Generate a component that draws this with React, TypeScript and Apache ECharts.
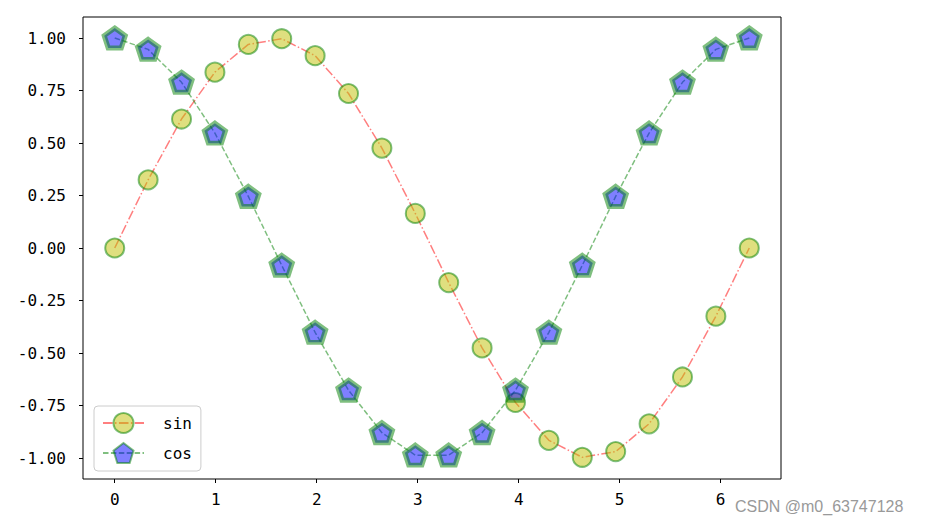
import React, { useEffect, useRef } from "react";
import * as echarts from "echarts";

const xValues = [0, 0.3307, 0.6614, 0.9921, 1.3228, 1.6535, 1.9842, 2.3149, 2.6456, 2.9762, 3.3069, 3.6376, 3.9683, 4.299, 4.6297, 4.9604, 5.2911, 5.6218, 5.9525, 6.2832];
const sinValues = [0, 0.3247, 0.6142, 0.8372, 0.9694, 0.9966, 0.9158, 0.7357, 0.4759, 0.1646, -0.1646, -0.4759, -0.7357, -0.9158, -0.9966, -0.9694, -0.8372, -0.6142, -0.3247, 0];
const cosValues = [1, 0.9458, 0.7891, 0.5469, 0.2455, -0.0826, -0.4017, -0.6773, -0.8795, -0.9864, -0.9864, -0.8795, -0.6773, -0.4017, -0.0826, 0.2455, 0.5469, 0.7891, 0.9458, 1];
const xTicks = [0, 1, 2, 3, 4, 5, 6];
const yTicks = [-1, -0.75, -0.5, -0.25, 0, 0.25, 0.5, 0.75, 1];
const seriesNames = ["sin", "cos"];
const watermark = "CSDN @m0_63747128";

const PENTAGON = "path://M0,-1 L0.951,-0.309 L0.588,0.809 L-0.588,0.809 L-0.951,-0.309 Z";
const MONO = "'DejaVu Sans Mono', monospace";

export default function App() {
  const ref = useRef<HTMLDivElement>(null);
  useEffect(() => {
    if (!ref.current) return;
    const chart = echarts.init(ref.current, null, { renderer: "svg" });
    const sinData = xValues.map((x, i) => [x, sinValues[i]]);
    const cosData = xValues.map((x, i) => [x, cosValues[i]]);
    chart.setOption({
      animation: false,
      backgroundColor: "#ffffff",
      grid: {
        left: 83,
        top: 17,
        width: 698,
        height: 462,
        show: true,
        borderColor: "#000000",
        borderWidth: 1,
        backgroundColor: "transparent",
      },
      legend: {
        show: true,
        orient: "vertical",
        left: 94,
        top: 406,
        data: seriesNames,
        itemWidth: 41,
        itemHeight: 25,
        itemGap: 8,
        padding: [6, 9, 7, 8],
        borderColor: "#cccccc",
        borderWidth: 1,
        borderRadius: 4,
        backgroundColor: "rgba(255,255,255,0.8)",
        textStyle: { fontFamily: MONO, fontSize: 16, color: "#000", padding: [0, 0, 0, 14] },
      },
      xAxis: {
        type: "value",
        min: -0.31416,
        max: 6.59734,
        splitLine: { show: false },
        axisLine: { show: false, onZero: false },
        axisTick: { show: true, customValues: xTicks, length: 4, lineStyle: { color: "#000", width: 1 } },
        axisLabel: {
          customValues: xTicks,
          margin: 12,
          color: "#000",
          fontFamily: MONO,
          fontSize: 16,
          formatter: (v: number) => String(v),
        },
      },
      yAxis: {
        type: "value",
        min: -1.1,
        max: 1.1,
        splitLine: { show: false },
        axisLine: { show: false, onZero: false },
        axisTick: { show: true, customValues: yTicks, length: 4, lineStyle: { color: "#000", width: 1 } },
        axisLabel: {
          customValues: yTicks,
          margin: 17,
          color: "#000",
          fontFamily: MONO,
          fontSize: 16,
          formatter: (v: number) => v.toFixed(2),
        },
      },
      series: [
        {
          name: seriesNames[0],
          type: "line",
          data: sinData,
          symbol: "circle",
          symbolSize: 19,
          lineStyle: { color: "rgba(255,0,0,0.5)", width: 1.5, type: [9.6, 2.4, 1.5, 2.4] },
          itemStyle: { color: "rgba(191,191,0,0.5)", borderColor: "rgba(0,128,0,0.5)", borderWidth: 2, opacity: 1 },
          emphasis: { disabled: true },
          z: 2,
        },
        {
          name: seriesNames[1],
          type: "line",
          data: cosData,
          symbol: PENTAGON,
          symbolSize: [21, 20],
          lineStyle: { color: "rgba(0,128,0,0.5)", width: 1.5, type: [5.5, 2.4] },
          itemStyle: { color: "rgba(0,0,255,0.5)", borderColor: "rgba(0,128,0,0.5)", borderWidth: 5, opacity: 1 },
          emphasis: { disabled: true },
          z: 3,
        },
      ],
      graphic: [
        {
          type: "text",
          left: 735,
          top: 498,
          style: { text: watermark, fill: "#999999", font: "16px 'Liberation Sans', Arial, sans-serif" },
        },
      ],
    });
    return () => chart.dispose();
  }, []);
  return <div ref={ref} style={{ position: "fixed", left: 0, top: 0, width: 925, height: 525 }} />;
}
